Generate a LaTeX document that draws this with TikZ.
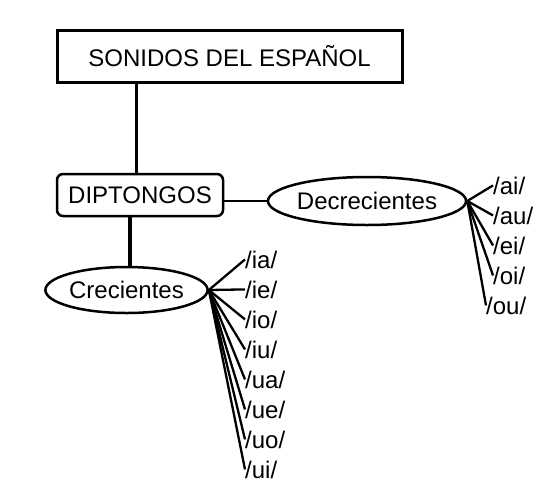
\documentclass[tikz,border=0pt]{standalone}
\usepackage{fontspec}
\setmainfont{Liberation Sans}
\usetikzlibrary{shapes.geometric}
\begin{document}
\begin{tikzpicture}[x=1pt,y=-1pt,
  every node/.style={font=\fontsize{24}{28}\selectfont, inner sep=0pt},
  titlebox/.style={draw, line width=3pt, minimum width=345pt, minimum height=52pt},
  dipbox/.style={draw, line width=2.5pt, rounded corners=6pt, minimum width=166pt, minimum height=42pt},
  oval/.style={draw, ellipse, line width=2.5pt},
  lbl/.style={anchor=base west},
  fan/.style={line width=2.3pt},
]
\useasboundingbox (0,0) rectangle (556,488);
\node[titlebox] (title) at (229.5,56) {SONIDOS DEL ESPAÑOL};
\node[dipbox] (dip) at (140,195) {DIPTONGOS};
\node[oval, minimum width=190pt, minimum height=48pt] (dec) at (367,201) {Decrecientes};
\node[oval, minimum width=151pt, minimum height=46pt] (cre) at (126.5,290) {Crecientes};

\draw[line width=3pt] ([xshift=-4pt]dip.north) -- ([xshift=-4pt]dip.north |- title.south);
\draw[line width=2.5pt] (dip.east |- dec.west) -- (dec.west);
\draw[line width=4.5pt] ([xshift=3.5pt]cre.north |- dip.south) -- ([xshift=3.5pt]cre.north);

\node[lbl] (ai) at (493,194) {/ai/};
\node[lbl] (au) at (493,224) {/au/};
\node[lbl] (ei) at (493,254) {/ei/};
\node[lbl] (oi) at (493,284) {/oi/};
\node[lbl] (ou) at (486,314) {/ou/};
\foreach \n in {ai,au,ei,oi,ou} \draw[fan] (dec.east) -- (\n.west);

\node[lbl] (ia) at (245,268) {/ia/};
\node[lbl] (ie) at (245,298) {/ie/};
\node[lbl] (io) at (245,328) {/io/};
\node[lbl] (iu) at (245,358) {/iu/};
\node[lbl] (ua) at (245,388) {/ua/};
\node[lbl] (ue) at (245,418) {/ue/};
\node[lbl] (uo) at (245,448) {/uo/};
\node[lbl] (ui) at (245,478) {/ui/};
\foreach \n in {ia,ie,io,iu,ua,ue,uo,ui} \draw[fan] (cre.east) -- (\n.west);
\end{tikzpicture}
\end{document}
